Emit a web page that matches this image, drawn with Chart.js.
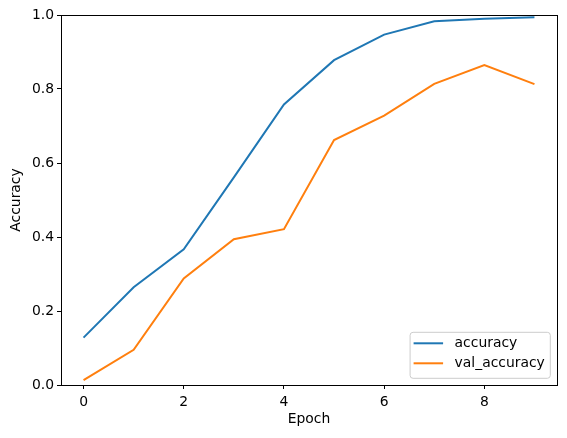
<!DOCTYPE html>
<html>
<head>
<meta charset="utf-8">
<script src="https://cdn.jsdelivr.net/npm/chart.js@4.4.1/dist/chart.umd.min.js"></script>
<style>
  html, body { margin: 0; padding: 0; background: #fff; }
  canvas { display: block; }
</style>
</head>
<body>
<canvas id="myChart" width="567" height="438"></canvas>
<script>
// values
const epochs = [0, 1, 2, 3, 4, 5, 6, 7, 8, 9];
const accuracy = [0.128, 0.264, 0.367, 0.561, 0.758, 0.878, 0.947, 0.983, 0.990, 0.994];
const valAccuracy = [0.013, 0.095, 0.288, 0.394, 0.421, 0.662, 0.728, 0.814, 0.865, 0.813];
const xTicks = [0, 2, 4, 6, 8];
const yTicks = [0, 0.2, 0.4, 0.6, 0.8, 1.0];

const FONT = 'DejaVu Sans';
Chart.defaults.font.family = FONT;
Chart.defaults.font.size = 13.9;
Chart.defaults.color = '#000';

function toPoints(vals) {
  return epochs.map(function (e, i) { return { x: e, y: vals[i] }; });
}

// frame around the plot area + legend box in the lower right corner
const framePlugin = {
  id: 'frame',
  afterDraw: function (chart) {
    const ctx = chart.ctx;
    const a = chart.chartArea;
    ctx.save();
    ctx.strokeStyle = '#000';
    ctx.lineWidth = 1;
    ctx.strokeRect(Math.round(a.left) + 0.5, Math.round(a.top) + 0.5,
      Math.round(a.right - a.left), Math.round(a.bottom - a.top));

    // legend
    ctx.font = '13.9px ' + FONT;
    const sets = chart.data.datasets;
    let textW = 0;
    sets.forEach(function (d) { textW = Math.max(textW, ctx.measureText(d.label).width); });
    const boxW = 44.5 + textW + 5.5;
    const boxH = 46;
    const bx = a.right - 6.7 - boxW;
    const by = a.bottom - 6.7 - boxH;
    ctx.fillStyle = 'rgba(255,255,255,0.8)';
    ctx.strokeStyle = '#cccccc';
    ctx.lineWidth = 1;
    ctx.beginPath();
    ctx.roundRect(bx, by, boxW, boxH, 3);
    ctx.fill();
    ctx.stroke();
    ctx.textBaseline = 'middle';
    ctx.textAlign = 'left';
    sets.forEach(function (d, i) {
      const cy = by + 11 + i * 20;
      ctx.strokeStyle = d.borderColor;
      ctx.lineWidth = 2;
      ctx.beginPath();
      ctx.moveTo(bx + 3.5, cy);
      ctx.lineTo(bx + 33, cy);
      ctx.stroke();
      ctx.fillStyle = '#000';
      ctx.fillText(d.label, bx + 44.5, cy);
    });
    ctx.restore();
  }
};

const config = {
  type: 'line',
  data: {
    datasets: [
      {
        label: 'accuracy',
        data: toPoints(accuracy),
        borderColor: '#1f77b4',
        backgroundColor: '#1f77b4',
        borderWidth: 2,
        pointRadius: 0,
        tension: 0,
      },
      {
        label: 'val_accuracy',
        data: toPoints(valAccuracy),
        borderColor: '#ff7f0e',
        backgroundColor: '#ff7f0e',
        borderWidth: 2,
        pointRadius: 0,
        tension: 0,
      },
    ],
  },
  options: {
    responsive: false,
    animation: false,
    layout: { padding: { top: 15, right: 10, left: 0, bottom: 0 } },
    plugins: {
      legend: { display: false },
      tooltip: { enabled: false },
    },
    scales: {
      x: {
        type: 'linear',
        min: -0.45,
        max: 9.45,
        afterBuildTicks: function (s) { s.ticks = xTicks.map(function (v) { return { value: v }; }); },
        afterFit: function (s) { s.height = 53; },
        ticks: { padding: 5, maxRotation: 0, callback: function (v) { return String(v); } },
        grid: { drawOnChartArea: false, tickLength: 4, color: '#000' },
        border: { display: false },
        title: { display: true, text: 'Epoch', padding: { top: 0, bottom: 10 } },
      },
      y: {
        type: 'linear',
        min: 0,
        max: 1,
        afterBuildTicks: function (s) { s.ticks = yTicks.map(function (v) { return { value: v }; }); },
        afterFit: function (s) { s.width = 61; },
        ticks: { padding: 3, callback: function (v) { return v.toFixed(1); } },
        grid: { drawOnChartArea: false, tickLength: 4, color: '#000' },
        border: { display: false },
        title: { display: true, text: 'Accuracy', padding: { top: 8, bottom: 0 } },
      },
    },
  },
  plugins: [framePlugin],
};

const myChart = new Chart(document.getElementById('myChart'), config);
</script>
</body>
</html>
